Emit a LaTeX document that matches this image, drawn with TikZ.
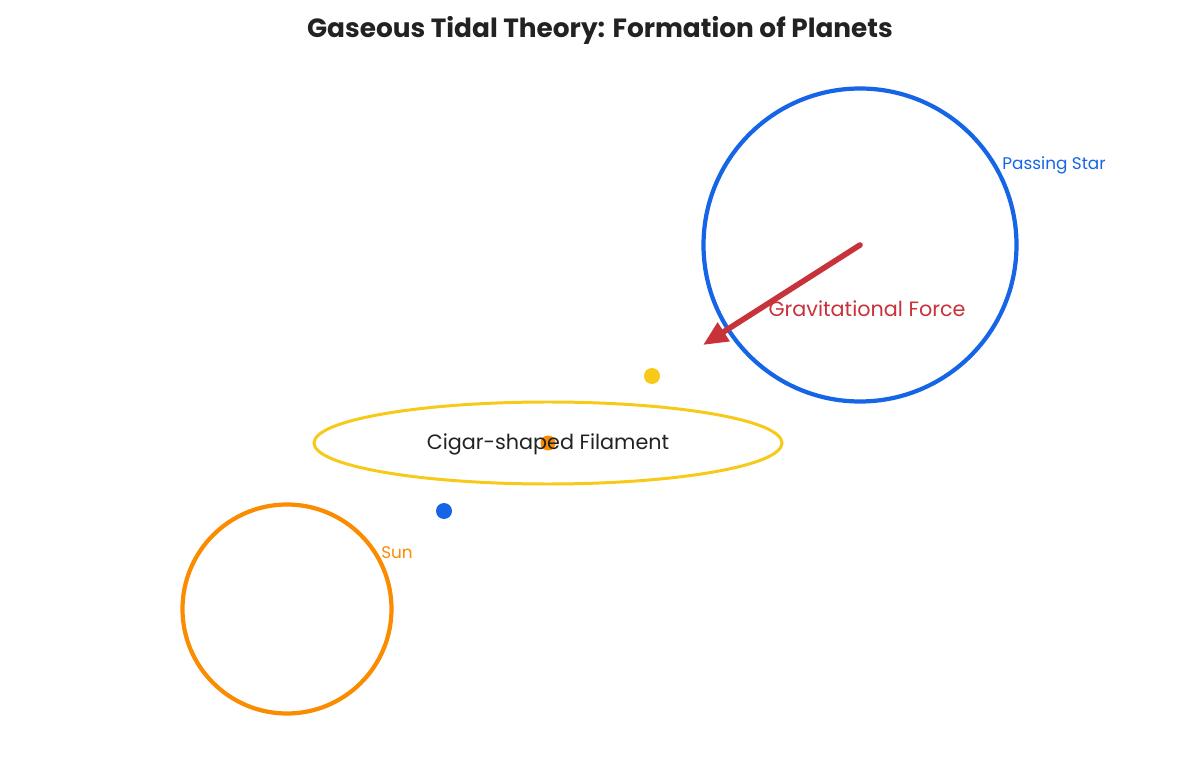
\documentclass[tikz,border=0pt]{standalone}
\usepackage{fontspec}
\setmainfont{Poppins}
\usetikzlibrary{arrows.meta,shapes.geometric}
\definecolor{starblue}{HTML}{1565E6}
\definecolor{sunorange}{HTML}{FB8C00}
\definecolor{gasyellow}{HTML}{F7C918}
\definecolor{forcered}{HTML}{C8323A}
\definecolor{inkdark}{HTML}{222222}
\tikzset{
	body/.style={circle, draw, line width=2.4pt, inner sep=0pt},
	blob/.style={circle, fill, inner sep=0pt, minimum size=#1},
	tag/.style={font=\fontsize{9.6}{11}\selectfont, inner sep=0pt}
}
\begin{document}
\begin{tikzpicture}[x=0.02cm,y=-0.02cm]
	\useasboundingbox (0,0) rectangle (1200,763);
	\node (title) at (600, 30) [font=\fontsize{15}{18}\selectfont\bfseries, text=inkdark] {Gaseous Tidal Theory: Formation of Planets};
	% bodies
	\node (star) at (860, 245) [body, draw=starblue, minimum size=313*0.02cm] {};
	\node (sun) at (287, 609) [body, draw=sunorange, minimum size=209*0.02cm] {};
	\node (filament) at (548, 443) [ellipse, draw=gasyellow, line width=1.7pt, minimum width=468*0.02cm, minimum height=82*0.02cm, inner sep=0pt] {};
	% planets
	\node (p1) at (652, 376) [blob=16*0.02cm, fill=gasyellow] {};
	\node (p2) at (548, 443) [blob=15*0.02cm, fill=sunorange] {};
	\node (p3) at (444, 511) [blob=16*0.02cm, fill=starblue] {};
	% labels
	\node (starlabel) at (1054, 165) [tag, text=starblue] {Passing Star};
	\node (sunlabel) at (397, 553) [tag, text=sunorange] {Sun};
	\node (filamentlabel) at (548, 444) [font=\fontsize{11.8}{14}\selectfont, text=inkdark, inner sep=0pt] {Cigar-shaped Filament};
	% force
	\coordinate (pull) at (703, 345);
	\draw [forcered, line width=3.2pt, line cap=round, -{Triangle[length=14pt, width=12pt]}] (star.center) -- (pull);
	\node (forcelabel) at (867, 309) [font=\fontsize{11.8}{14}\selectfont, text=forcered, inner sep=0pt] {Gravitational Force};
\end{tikzpicture}
\end{document}
